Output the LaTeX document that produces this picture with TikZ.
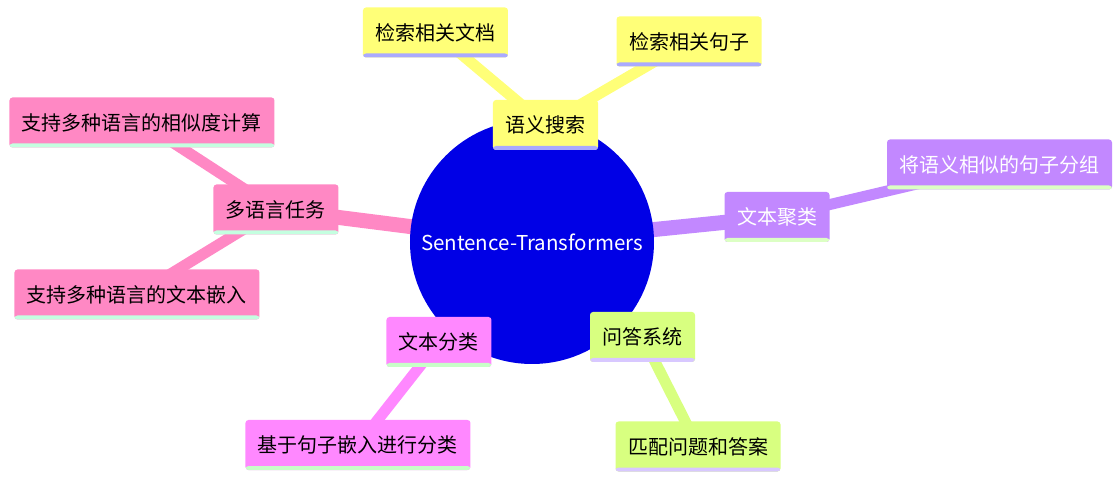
\documentclass[tikz,border=0pt]{standalone}
\usepackage{fontspec}
\setmainfont{Noto Sans CJK SC}
\usetikzlibrary{backgrounds}

\definecolor{rootFill}{HTML}{0000E6}
\definecolor{yellowFill}{HTML}{FFFF78}
\definecolor{yellowLine}{HTML}{AAAAFF}
\definecolor{pinkFill}{HTML}{FF88C4}
\definecolor{pinkLine}{HTML}{C4FFE0}
\definecolor{purpleFill}{HTML}{C288FF}
\definecolor{purpleLine}{HTML}{DCFFC4}
\definecolor{magentaFill}{HTML}{FF88FF}
\definecolor{magentaLine}{HTML}{C8FFC8}
\definecolor{greenFill}{HTML}{D8FF80}
\definecolor{greenLine}{HTML}{D8C8FF}

\newcommand{\boxstripe}[1]{\fill[#1] ([yshift=4pt]path picture bounding box.south west) rectangle (path picture bounding box.south east);}

\tikzstyle{rootNode} = [circle, minimum size=244pt, fill=rootFill, text=white, inner sep=0pt, font=\fontsize{20.5pt}{24pt}\selectfont]
\tikzstyle{box} = [rectangle, rounded corners=3pt, minimum height=50pt, inner xsep=12.5pt, text centered, font=\fontsize{20pt}{24pt}\selectfont]
\tikzstyle{yellowbox} = [box, fill=yellowFill, path picture={\boxstripe{yellowLine}}]
\tikzstyle{pinkbox} = [box, fill=pinkFill, path picture={\boxstripe{pinkLine}}]
\tikzstyle{purplebox} = [box, fill=purpleFill, text=white, path picture={\boxstripe{purpleLine}}]
\tikzstyle{magentabox} = [box, fill=magentaFill, path picture={\boxstripe{magentaLine}}]
\tikzstyle{greenbox} = [box, fill=greenFill, path picture={\boxstripe{greenLine}}]
\tikzstyle{trunk} = [line width=15pt]
\tikzstyle{twig} = [line width=11pt]

\begin{document}
\begin{tikzpicture} [node distance=100pt]
        \useasboundingbox (-532pt,-247pt) rectangle (584pt,242pt);

        \node (root) [rootNode] at (0,0) {Sentence-Transformers};

        \node (search) [yellowbox, above of=root, xshift=13.5pt, yshift=17pt] {语义搜索};
        \node (searchDoc) [yellowbox, above of=search, xshift=-110pt, yshift=-7.5pt] {检索相关文档};
        \node (searchSent) [yellowbox, above of=search, xshift=143.5pt, yshift=-16.5pt] {检索相关句子};

        \node (multi) [pinkbox, left of=root, xshift=-156pt, yshift=32.5pt] {多语言任务};
        \node (multiSim) [pinkbox, above of=multi, xshift=-134pt, yshift=-13pt] {支持多种语言的相似度计算};
        \node (multiEmbed) [pinkbox, below of=multi, xshift=-139pt, yshift=15pt] {支持多种语言的文本嵌入};

        \node (cluster) [purplebox, right of=root, xshift=145pt, yshift=25pt] {文本聚类};
        \node (clusterGroup) [purplebox, right of=cluster, xshift=122.5pt, yshift=52.5pt] {将语义相似的句子分组};

        \node (classify) [magentabox, below of=root, xshift=-93pt] {文本分类};
        \node (classifyEmbed) [magentabox, below of=classify, xshift=-81pt, yshift=-3pt] {基于句子嵌入进行分类};

        \node (qa) [greenbox, below of=root, xshift=110.5pt, yshift=5pt] {问答系统};
        \node (qaMatch) [greenbox, below of=qa, xshift=55.5pt, yshift=-9.5pt] {匹配问题和答案};

        \begin{pgfonlayer}{background}
        \draw[trunk, yellowFill] (root.center) -- (search.center);
        \draw[twig, yellowFill] (search.center) -- (searchDoc.center);
        \draw[twig, yellowFill] (search.center) -- (searchSent.center);

        \draw[trunk, pinkFill] (root.center) -- (multi.center);
        \draw[twig, pinkFill] (multi.center) -- (multiSim.center);
        \draw[twig, pinkFill] (multi.center) -- (multiEmbed.center);

        \draw[trunk, purpleFill] (root.center) -- (cluster.center);
        \draw[twig, purpleFill] (cluster.center) -- (clusterGroup.center);

        \draw[trunk, magentaFill] (root.center) -- (classify.center);
        \draw[twig, magentaFill] (classify.center) -- (classifyEmbed.center);

        \draw[trunk, greenFill] (root.center) -- (qa.center);
        \draw[twig, greenFill] (qa.center) -- (qaMatch.center);
        \end{pgfonlayer}

    \end{tikzpicture}
\end{document}
